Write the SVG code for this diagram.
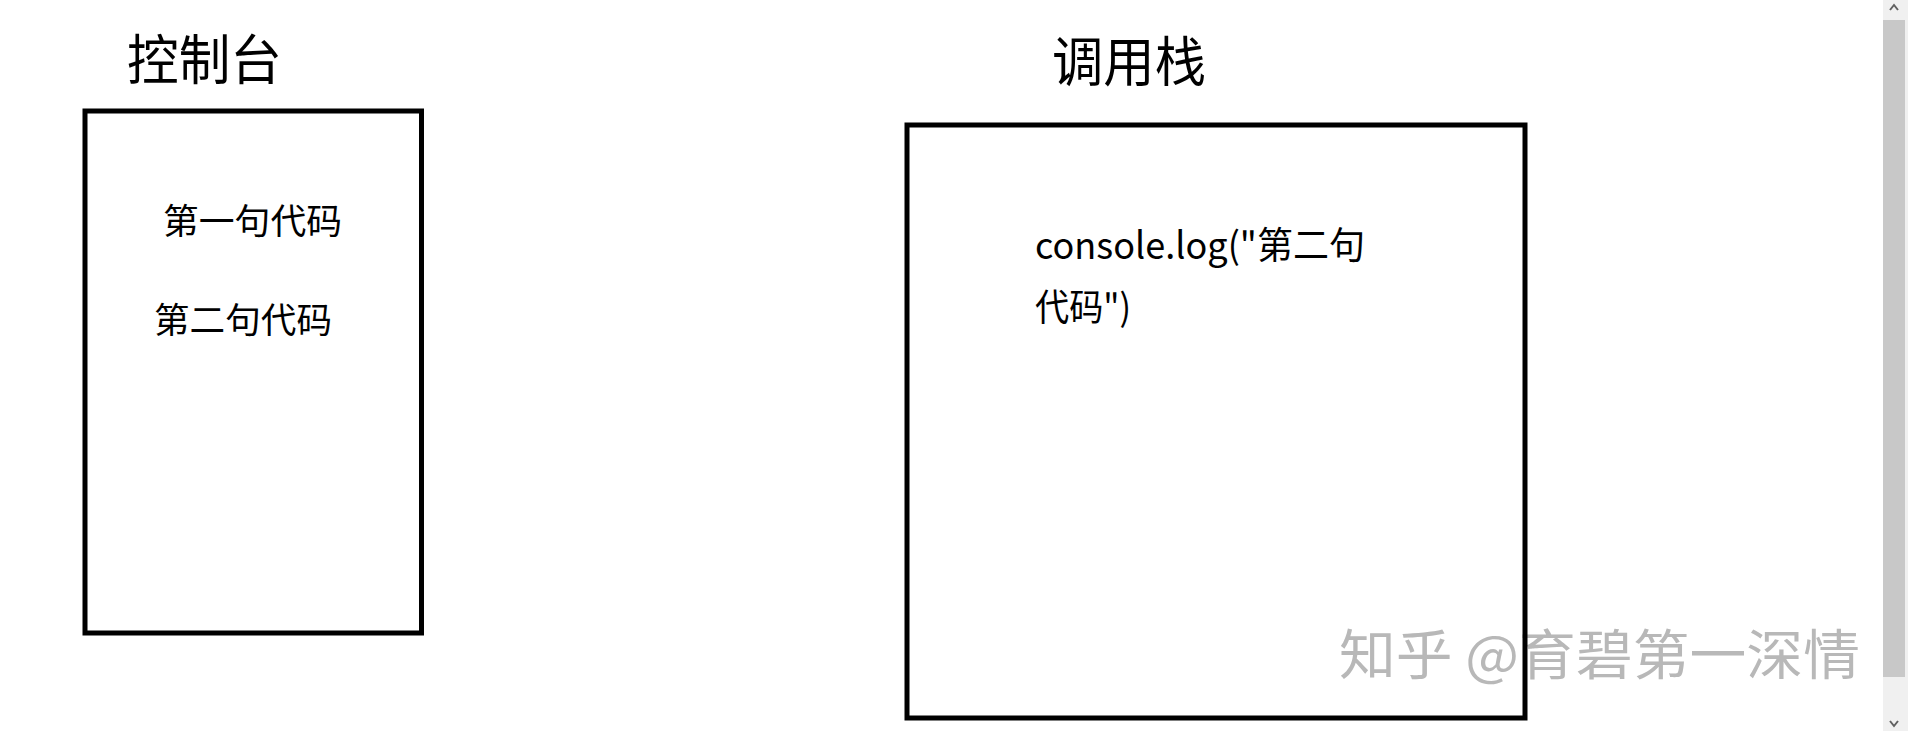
<svg xmlns="http://www.w3.org/2000/svg" width="1908" height="731" viewBox="0 0 1908 731">
  <style>
    .t { font-family: "Noto Sans CJK SC", "Noto Sans", sans-serif; fill: #000; }
    .box { fill: none; stroke: #000; stroke-width: 5; }
    .wm { font-family: "Noto Sans CJK SC", "Noto Sans", sans-serif; fill: #b8b8b8; }
  </style>
  <rect x="0" y="0" width="1908" height="731" fill="#fff"/>

  <g id="watermark">
    <text class="wm" x="1339" y="675" font-size="54" textLength="521" lengthAdjust="spacingAndGlyphs">知乎 @育碧第一深情</text>
  </g>

  <g id="console">
    <text class="t" x="127" y="80" font-size="54" textLength="155" lengthAdjust="spacingAndGlyphs">控制台</text>
    <rect class="box" x="85" y="111" width="336.5" height="522"/>
    <text class="t" x="163" y="234" font-size="35" textLength="179" lengthAdjust="spacingAndGlyphs">第一句代码</text>
    <text class="t" x="154" y="333" font-size="35" textLength="178" lengthAdjust="spacingAndGlyphs">第二句代码</text>
  </g>

  <g id="callstack">
    <text class="t" x="1052" y="82" font-size="54" textLength="154" lengthAdjust="spacingAndGlyphs">调用栈</text>
    <rect class="box" x="907" y="125" width="618" height="593"/>
    <text class="t" x="1035" y="259" font-size="37" textLength="330" lengthAdjust="spacingAndGlyphs">console.log("第二句</text>
    <text class="t" x="1035" y="321" font-size="37" textLength="96" lengthAdjust="spacingAndGlyphs">代码")</text>
  </g>

  <g id="connectors"></g>

  <g id="scrollbar">
    <rect x="1883" y="0" width="25" height="731" fill="#f0f0f0"/>
    <rect x="1883" y="20" width="22" height="657" fill="#c8c8c8"/>
    <polyline points="1890,10 1894,5 1898,10" fill="none" stroke="#606060" stroke-width="2"/>
    <polyline points="1890,721 1894,726 1898,721" fill="none" stroke="#606060" stroke-width="2"/>
  </g>
</svg>
